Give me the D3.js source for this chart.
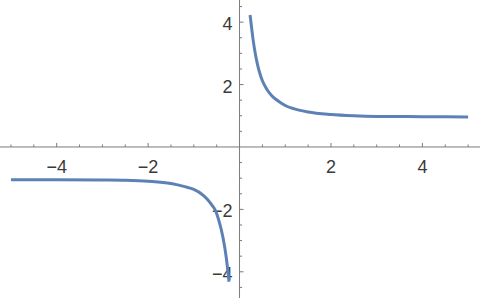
<!DOCTYPE html>
<html>
<head>
<meta charset="utf-8">
<script src="https://cdn.jsdelivr.net/npm/d3@7"></script>
<style>
	body { margin: 0; background: #fff; }
	svg { display: block; }
</style>
</head>
<body>
<div></div>
<script>
var width = 480;
var height = 298;

// points, two branches
var rightX = [0.23, 0.27, 0.3, 0.35, 0.4, 0.45, 0.5, 0.6, 0.7, 0.8, 0.9, 1.0, 1.2, 1.5, 2, 2.5, 3, 4, 5];
var rightY = [4.23, 3.75, 3.4, 2.95, 2.6, 2.33, 2.12, 1.84, 1.65, 1.52, 1.42, 1.33, 1.22, 1.12, 1.04, 1.0, 0.98, 0.97, 0.96];
var leftX = [-5, -4, -3, -2.5, -2, -1.5, -1.2, -1.0, -0.8, -0.7, -0.6, -0.54, -0.45, -0.36, -0.29, -0.25, -0.23];
var leftY = [-1.05, -1.05, -1.06, -1.07, -1.1, -1.17, -1.27, -1.36, -1.54, -1.68, -1.87, -2.0, -2.37, -2.92, -3.55, -4.05, -4.32];

var majorTicks = [-4, -2, 2, 4];
var minorTicks = d3.range(-5, 5.01, 0.5).filter(t => t != 0 && majorTicks.indexOf(t) < 0);
var yMinorTicks = d3.range(-4.5, 4.51, 0.5).filter(t => t != 0 && majorTicks.indexOf(t) < 0);

var x = d3.scaleLinear().domain([-5.24, 5.26]).range([0, width]);
var y = d3.scaleLinear().domain([-4.84, 4.71]).range([height, 0]);

var svg = d3.select("div")
	.append("svg")
	.attr("width", width)
	.attr("height", height);

var axisColor = "#7a7a7a";

// x axis line + ticks (ticks point up)
svg.append("line")
	.attr("x1", 0).attr("x2", width)
	.attr("y1", y(0)).attr("y2", y(0))
	.attr("stroke", axisColor)
	.attr("stroke-width", 1);

svg.append("g")
	.selectAll("line")
	.data(majorTicks.map(t => [t, 4]).concat(minorTicks.map(t => [t, 2.5])))
	.enter()
	.append("line")
	.attr("x1", d => x(d[0])).attr("x2", d => x(d[0]))
	.attr("y1", y(0)).attr("y2", d => y(0) - d[1])
	.attr("stroke", axisColor);

// y axis line + ticks (ticks point right)
svg.append("line")
	.attr("x1", x(0)).attr("x2", x(0))
	.attr("y1", 0).attr("y2", height)
	.attr("stroke", axisColor)
	.attr("stroke-width", 1);

svg.append("g")
	.selectAll("line")
	.data(majorTicks.map(t => [t, 4]).concat(yMinorTicks.map(t => [t, 2.5])))
	.enter()
	.append("line")
	.attr("y1", d => y(d[0])).attr("y2", d => y(d[0]))
	.attr("x1", x(0)).attr("x2", d => x(0) + d[1])
	.attr("stroke", axisColor);

var fmt = t => (t < 0 ? "\u2212" : "") + Math.abs(t);

svg.append("g")
	.selectAll("text")
	.data(majorTicks)
	.enter()
	.append("text")
	.text(fmt)
	.attr("x", d => x(d))
	.attr("y", y(0) + 26)
	.attr("text-anchor", "middle")
	.attr("font-family", "Liberation Sans, Arial, sans-serif")
	.attr("font-size", 18)
	.attr("fill", "#3a3a3a");

svg.append("g")
	.selectAll("text")
	.data(majorTicks)
	.enter()
	.append("text")
	.text(fmt)
	.attr("x", x(0) - 7)
	.attr("y", d => y(d) + 8)
	.attr("text-anchor", "end")
	.attr("font-family", "Liberation Sans, Arial, sans-serif")
	.attr("font-size", 18)
	.attr("fill", "#3a3a3a");

var line = d3.line()
	.x(d => x(d[0]))
	.y(d => y(d[1]))
	.curve(d3.curveMonotoneX);

var branches = [
	leftX.map((v, i) => [v, leftY[i]]),
	rightX.map((v, i) => [v, rightY[i]])
];

svg.append("g")
	.selectAll("path")
	.data(branches)
	.enter()
	.append("path")
	.attr("d", line)
	.attr("fill", "none")
	.attr("stroke", "#5e81b5")
	.attr("stroke-width", 3)
	.attr("stroke-linecap", "butt");
</script>
</body>
</html>
